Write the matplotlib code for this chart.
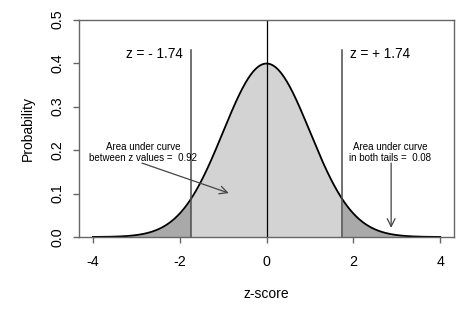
import numpy as np
import matplotlib
matplotlib.use('Agg')
from matplotlib import pyplot as plt

plt.rcParams['font.family'] = ['Liberation Sans', 'DejaVu Sans']

# data
z_crit = 1.74
area_between = 0.92
area_tails = 0.08
x_ticks = [-4, -2, 0, 2, 4]
y_ticks = [0.0, 0.1, 0.2, 0.3, 0.4, 0.5]
y_tick_labels = ['0.0', '0.1', '0.2', '0.3', '0.4', '0.5']

z = np.linspace(-4, 4, 801)
dens = np.exp(-z ** 2 / 2) / np.sqrt(2 * np.pi)

fig = plt.figure(figsize=(4.74, 3.16), dpi=100)
ax = fig.add_axes([0.1667, 0.25, 0.7913, 0.688])

# shading
mid = np.abs(z) <= z_crit
ax.fill_between(z[mid], 0, dens[mid], color='#d3d3d3', lw=0)
ax.fill_between(z[z <= -z_crit], 0, dens[z <= -z_crit], color='#a9a9a9', lw=0)
ax.fill_between(z[z >= z_crit], 0, dens[z >= z_crit], color='#a9a9a9', lw=0)

ax.plot(z, dens, color='black', lw=1.3)

# vertical lines
ax.plot([-z_crit, -z_crit], [0, 0.43], color='#4a4a4a', lw=1.1)
ax.plot([z_crit, z_crit], [0, 0.43], color='#4a4a4a', lw=1.1)
ax.axvline(0, color='black', lw=0.9)

ax.text(-1.93, 0.42, 'z = - 1.74', ha='right', va='center', fontsize=9.8)
ax.text(1.92, 0.42, 'z = + 1.74', ha='left', va='center', fontsize=9.8)

ax.text(-2.85, 0.194, 'Area under curve\nbetween z values =  ' + str(area_between),
        ha='center', va='center', fontsize=7, linespacing=1.15)
ax.annotate('', xy=(-0.87, 0.101), xytext=(-2.87, 0.170),
            arrowprops=dict(arrowstyle='->', color='#444444', lw=0.9,
                            mutation_scale=14, shrinkA=0, shrinkB=0))

ax.text(2.84, 0.194, 'Area under curve\nin both tails =  ' + str(area_tails),
        ha='center', va='center', fontsize=7, linespacing=1.15)
ax.annotate('', xy=(2.87, 0.021), xytext=(2.87, 0.170),
            arrowprops=dict(arrowstyle='->', color='#444444', lw=0.9,
                            mutation_scale=14, shrinkA=0, shrinkB=0))

ax.set_xlim(-4.32, 4.32)
ax.set_ylim(0, 0.5)
ax.set_xticks(x_ticks)
ax.set_xticklabels([str(t) for t in x_ticks])
ax.set_yticks(y_ticks)
ax.set_yticklabels(y_tick_labels, rotation=90, va='center')

for s in ax.spines.values():
    s.set_color('#666666')
    s.set_linewidth(1.0)
ax.tick_params(axis='both', colors='#666666', labelcolor='black', length=4.5,
               width=1.0, labelsize=10.3)
ax.tick_params(axis='x', pad=8.5)
ax.tick_params(axis='y', pad=6)

ax.set_xlabel('z-score', fontsize=10, labelpad=13)
ax.set_ylabel('Probability', fontsize=10, labelpad=11)

fig.savefig('out.png', dpi=100)
